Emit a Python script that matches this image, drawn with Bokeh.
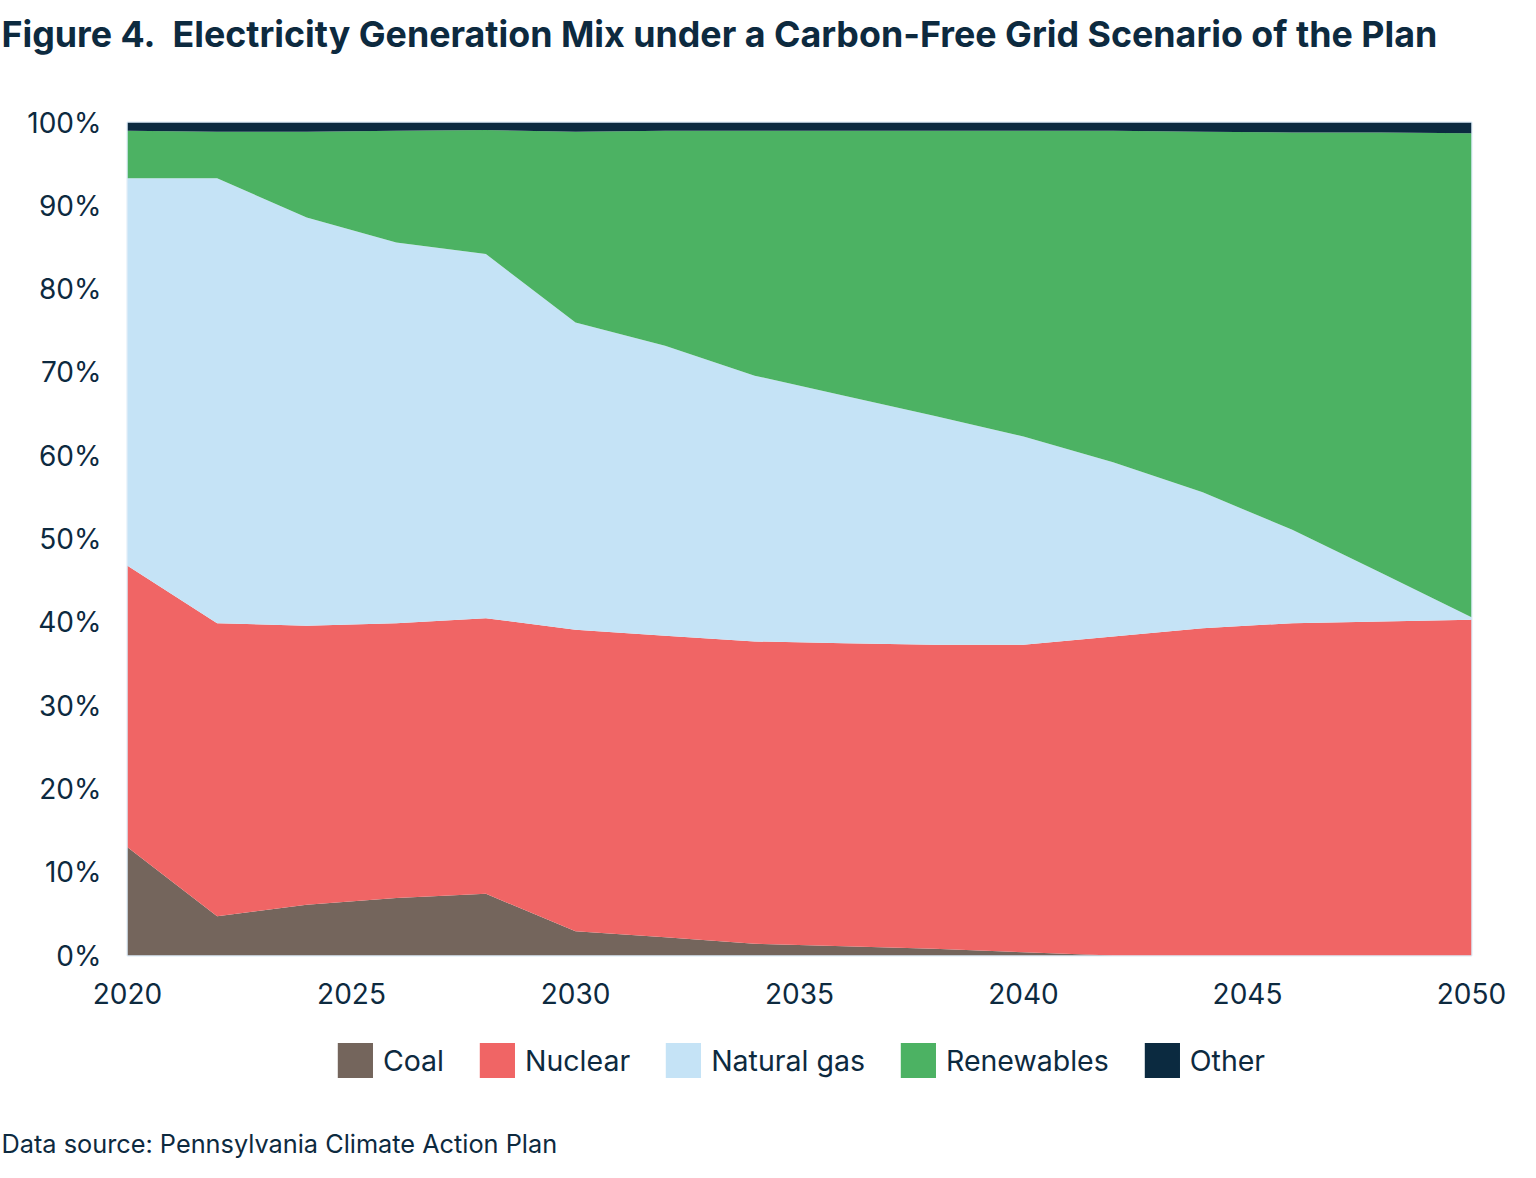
from bokeh.plotting import figure
from bokeh.layouts import column
from bokeh.models import (ColumnDataSource, Title, Legend, LegendItem, FixedTicker,
                          CustomJSTickFormatter)
from bokeh.embed import file_html
from bokeh.resources import INLINE

years = [2020, 2022, 2024, 2026, 2028, 2030, 2032, 2034, 2036, 2038, 2040, 2042, 2044, 2046, 2048, 2050]
coal = [13.0, 4.7, 6.1, 6.9, 7.4, 2.9, 2.2, 1.4, 1.1, 0.8, 0.4, 0.0, 0.0, 0.0, 0.0, 0.0]
nuclear = [33.8, 35.2, 33.5, 33.0, 33.1, 36.2, 36.2, 36.3, 36.4, 36.5, 36.9, 38.3, 39.3, 39.9, 40.1, 40.3]
natural_gas = [46.5, 53.4, 49.0, 45.7, 43.7, 36.9, 34.8, 31.9, 29.7, 27.5, 25.0, 20.9, 16.3, 11.2, 5.8, 0.3]
renewables = [5.7, 5.6, 10.3, 13.4, 14.9, 22.9, 25.8, 29.4, 31.8, 34.2, 36.7, 39.8, 43.3, 47.7, 52.9, 58.1]
other = [1.0, 1.1, 1.1, 1.0, 0.9, 1.1, 1.0, 1.0, 1.0, 1.0, 1.0, 1.0, 1.1, 1.2, 1.2, 1.3]

series_names = ["Coal", "Nuclear", "Natural gas", "Renewables", "Other"]
colors = ["#74655c", "#f06565", "#c5e3f6", "#4cb263", "#0b2a40"]
y_ticks = [0, 10, 20, 30, 40, 50, 60, 70, 80, 90, 100]
x_ticks = [2020, 2025, 2030, 2035, 2040, 2045, 2050]

title_text = "Figure 4.\u00a0 Electricity Generation Mix under a Carbon-Free Grid Scenario of the Plan"
source_text = "Data source: Pennsylvania Climate Action Plan"

TEXT = "#0d2a3f"
FONT = "Inter"
FW, BL, BR = 1344, 127, 57

source = ColumnDataSource(dict(year=years, Coal=coal, Nuclear=nuclear,
                               **{"Natural gas": natural_gas}, Renewables=renewables, Other=other))


def strip(h, **kw):
    f = figure(output_backend="svg", toolbar_location=None, frame_width=FW, frame_height=h,
               min_border_left=BL, min_border_right=BR, min_border_top=0, min_border_bottom=0,
               x_axis_location=None, y_axis_location=None, **kw)
    f.grid.visible = False
    f.outline_line_color = None
    return f


# --- title strip
top = strip(38, x_range=(0, 1), y_range=(0, 1))
top.add_layout(Title(text=title_text, align="left", offset=-126, standoff=18,
                     text_font=FONT, text_font_size="35.8px", text_font_style="bold",
                     text_color=TEXT), "above")

# --- main chart
p = figure(output_backend="svg", toolbar_location=None,
           frame_width=FW, frame_height=833,
           min_border_left=BL, min_border_right=BR, min_border_top=20, min_border_bottom=75,
           x_range=(2020, 2050), y_range=(0, 100))

p.varea_stack(stackers=series_names, x="year", color=colors, source=source)

p.xgrid.visible = False
p.ygrid.visible = False
p.outline_line_color = "#dcebf7"
p.outline_line_width = 2

for ax in (p.xaxis[0], p.yaxis[0]):
    ax.axis_line_color = None
    ax.major_tick_line_color = None
    ax.minor_tick_line_color = None
    ax.major_label_text_font = FONT
    ax.major_label_text_font_size = "28px"
    ax.major_label_text_color = TEXT

p.xaxis[0].ticker = FixedTicker(ticks=x_ticks)
p.xaxis[0].major_label_standoff = 21
p.yaxis[0].ticker = FixedTicker(ticks=y_ticks)
p.yaxis[0].formatter = CustomJSTickFormatter(code="return tick + '%';")
p.yaxis[0].major_label_standoff = 20

# --- legend + source strip (swatches take their colours from renderers of the same data,
#     kept outside this strip's visible range)
bottom = strip(90, x_range=(2020, 2050), y_range=(-300, -200))
leg_renderers = bottom.varea_stack(stackers=series_names, x="year", color=colors, source=source)
legend = Legend(items=[LegendItem(label=n, renderers=[r]) for n, r in zip(series_names, leg_renderers)],
                orientation="horizontal", location="top_center",
                glyph_width=44, glyph_height=44, label_standoff=6, spacing=31,
                label_text_font=FONT, label_text_font_size="28.5px", label_text_color=TEXT,
                border_line_color=None, background_fill_alpha=0,
                margin=8, padding=10)
bottom.add_layout(legend)
bottom.add_layout(Title(text=source_text, align="left", offset=-126, standoff=11,
                        text_font=FONT, text_font_size="25.3px", text_font_style="normal",
                        text_color=TEXT), "below")

layout = column(top, p, bottom, spacing=0)
open("out.html", "w").write(file_html(layout, INLINE))
